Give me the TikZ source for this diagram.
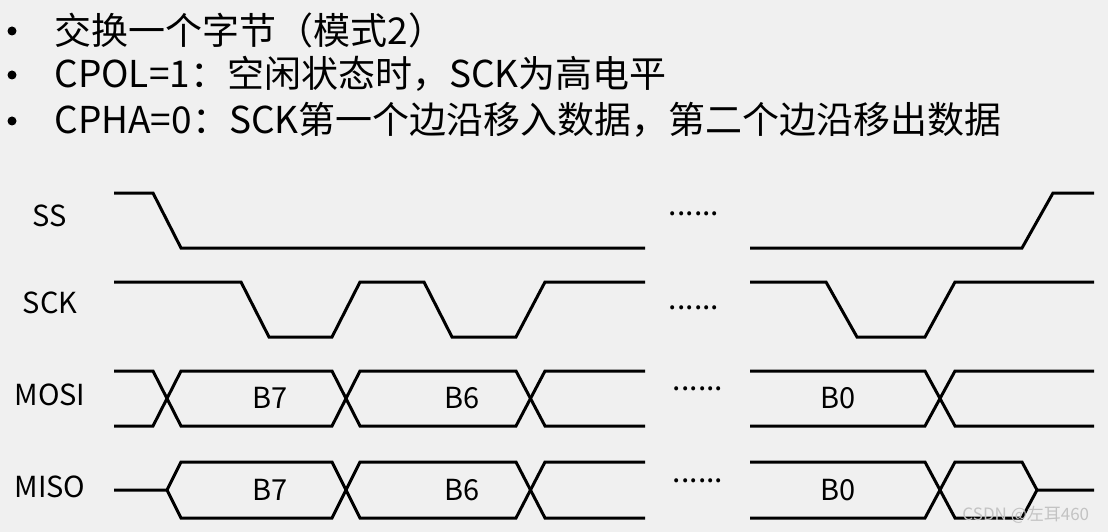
\documentclass[tikz,border=0pt]{standalone}
\usepackage{fontspec}
\setmainfont{Noto Sans CJK SC}
\begin{document}
\begin{tikzpicture}[x=1pt,y=-1pt,line width=3pt,
  sig/.style={line join=miter},
  lbl/.style={font=\fontsize{29}{29}\selectfont,anchor=center},
  bul/.style={font=\fontsize{37}{37}\selectfont,anchor=west,inner sep=0},
  dots/.style={font=\fontsize{30}{30}\selectfont,anchor=center}]
\fill[fill={rgb,255:red,240;green,240;blue,240}] (0,0) rectangle (1108,532);
\useasboundingbox (0,0) rectangle (1108,532);
% bullets
\foreach \yy/\t [count=\i] in {30/{交换一个字节（模式2）},74/{CPOL=1：空闲状态时，SCK为高电平},120/{CPHA=0：SCK第一个边沿移入数据，第二个边沿移出数据}}{
  \node[bul] (b\i) at (53,\yy) {\t};
  \fill (12,\yy+1) circle (4.5pt);
}
% signal names
\node[lbl] (nss) at (50,216) {SS};
\node[lbl] (nsck) at (50,303) {SCK};
\node[lbl] (nmosi) at (50,395) {MOSI};
\node[lbl] (nmiso) at (50,487) {MISO};
% SS
\draw[sig] (114,193) -- (153,193) -- (181,248) -- (645,248);
\draw[sig] (750,248) -- (1022,248) -- (1053,193) -- (1094,193);
% SCK
\draw[sig] (114,282) -- (241,282) -- (269,337) -- (332,337) -- (360,282) -- (424,282) -- (452,337) -- (516,337) -- (545,282) -- (645,282);
\draw[sig] (750,282) -- (826,282) -- (857,337) -- (925,337) -- (955,282) -- (1094,282);
% MOSI
\draw[sig] (114,371) -- (153,371) -- (181,426) -- (332,426) -- (360,371) -- (516,371) -- (545,426) -- (645,426);
\draw[sig] (114,426) -- (153,426) -- (181,371) -- (332,371) -- (360,426) -- (516,426) -- (545,371) -- (645,371);
\draw[sig] (750,371) -- (925,371) -- (955,426) -- (1094,426);
\draw[sig] (750,426) -- (925,426) -- (955,371) -- (1094,371);
% MISO
\draw[sig] (114,490) -- (167,490) -- (181,462) -- (332,462) -- (360,518) -- (516,518) -- (545,462) -- (645,462);
\draw[sig] (167,490) -- (181,518) -- (332,518) -- (360,462) -- (516,462) -- (545,518) -- (645,518);
\draw[sig] (750,462) -- (925,462) -- (955,518) -- (1022,518) -- (1037,490) -- (1094,490);
\draw[sig] (750,518) -- (925,518) -- (955,462) -- (1022,462) -- (1037,490);
% data labels
\node[lbl] (m7) at (270,398) {B7};
\node[lbl] (m6) at (462,398) {B6};
\node[lbl] (m0) at (838,398) {B0};
\node[lbl] (s7) at (270,490) {B7};
\node[lbl] (s6) at (462,490) {B6};
\node[lbl] (s0) at (838,490) {B0};
% dots
\node[dots] (e1) at (694,214) {......};
\node[dots] (e2) at (694,308) {......};
\node[dots] (e3) at (698,389) {......};
\node[dots] (e4) at (698,481) {......};
% watermark
\node[font=\fontsize{17}{17}\selectfont,text={rgb,255:red,195;green,195;blue,195},anchor=east] (wm) at (1094,515) {CSDN @左耳460};
\end{tikzpicture}
\end{document}
